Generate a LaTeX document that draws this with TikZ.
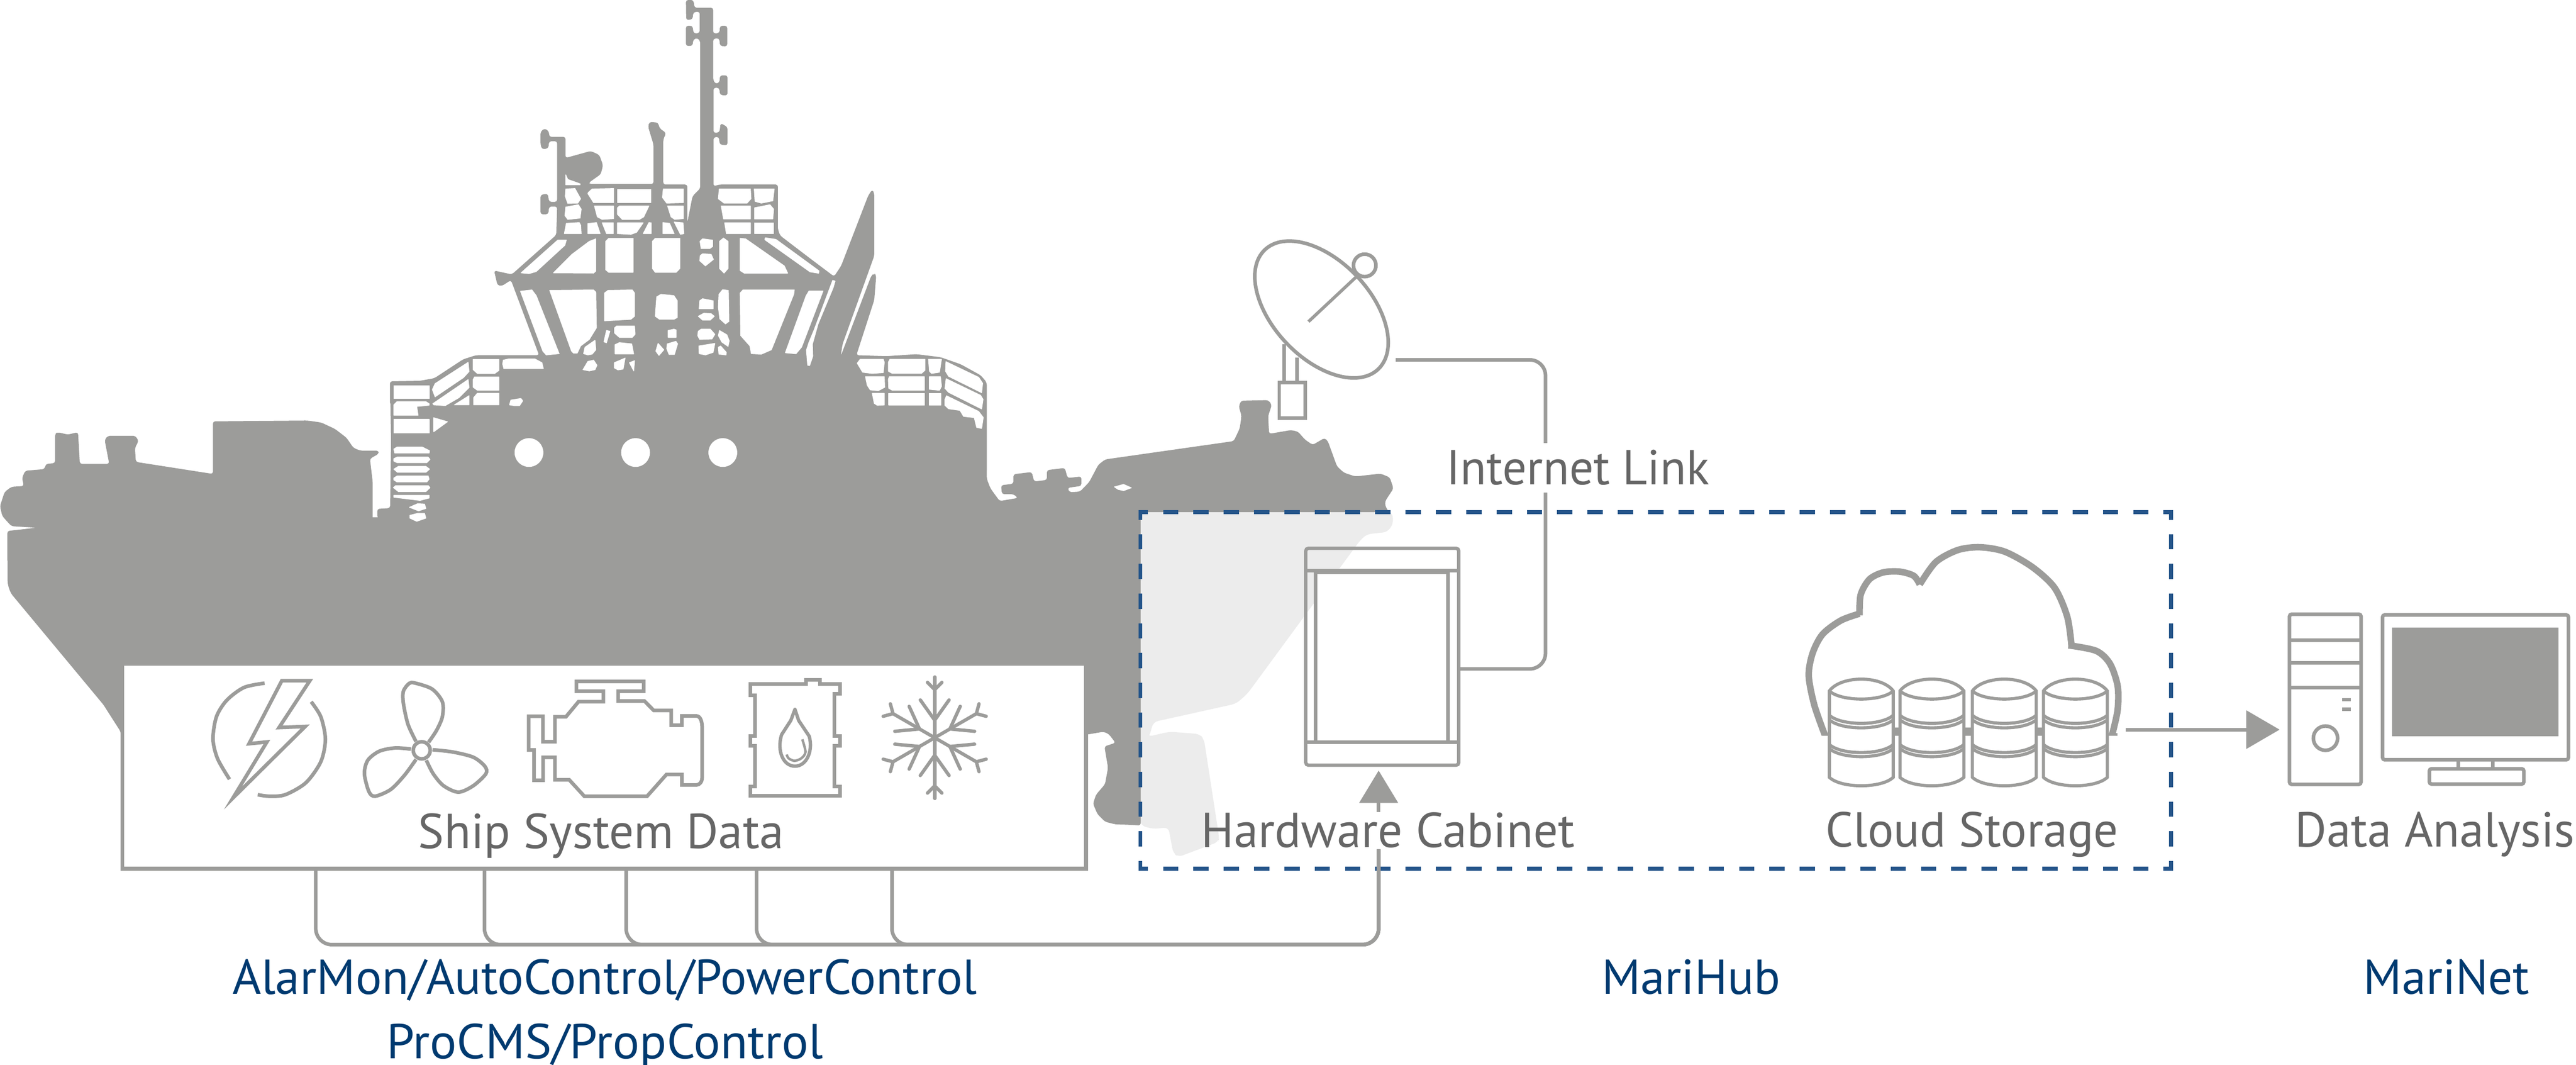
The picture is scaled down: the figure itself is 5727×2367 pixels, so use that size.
\documentclass[tikz,border=0pt]{standalone}
\usepackage{fontspec}
\usepackage{graphicx}
\setmainfont{PT Sans}
\usetikzlibrary{arrows.meta}
\definecolor{shipc}{HTML}{9C9C9A}
\definecolor{lightc}{HTML}{ECECEC}
\definecolor{dashc}{HTML}{25558A}
\definecolor{textc}{HTML}{666666}
\definecolor{bluec}{HTML}{003A70}
\tikzset{
  zm/.style n args={4}{shift={(#1,#2)},x={0.01cm/#3},y={-0.01cm/#4}},
  hullfill/.style={fill=shipc,rounded corners=0.05cm},
  lightfill/.style={fill=lightc,rounded corners=0.1cm},
  winfill/.style={fill=white,draw=white,line width=0.015cm,line join=round},
  wire/.style={draw=shipc,line width=0.08cm},
  icon/.style={draw=shipc,line width=0.08cm,line join=miter,miter limit=10},
  smallicon/.style={draw=shipc,line width=0.075cm},
  cloudline/.style={draw=shipc,line width=0.145cm},
  hubline/.style={draw=dashc,line width=0.087cm,line cap=rect},
  hubh/.style={hubline,dash pattern=on 0.253cm off 0.4206cm,dash phase=0.1265cm},
  hubv/.style={hubline,dash pattern=on 0.253cm off 0.407cm,dash phase=0.1265cm},
  txtlabel/.style={inner sep=0pt,outer sep=0pt,anchor=base west,font=\fontsize{31}{36}\selectfont},
  greylabel/.style={txtlabel,text=textc},
  bluelabel/.style={txtlabel,text=bluec},
  barrel/.pic={
    \filldraw[fill=white,draw=shipc,line width=0.07cm]
      (-71,0) .. controls (-45,-35) and (45,-35) .. (71,0) -- (71,192)
      .. controls (45,217) and (-45,217) .. (-71,192) -- cycle;
    \foreach \yy in {0,54,64,119,128}
      {\draw[draw=shipc,line width=0.07cm] (-71,\yy) .. controls (-45,\yy+24) and (45,\yy+24) .. (71,\yy);}
  },
}
\newcommand\win[1]{\filldraw[winfill] plot coordinates {#1} -- cycle;}
\newcommand\hull[2]{\fill[hullfill] #1 \foreach \p in {#2}{ -- \p } -- cycle;}
\newcommand\fit[2]{\resizebox{#1cm}{\height}{#2}}
\begin{document}
\begin{tikzpicture}[x=0.01cm,y=-0.01cm]
\useasboundingbox (0,0) rectangle (5727,2367);
\fill[white] (0,0) rectangle (5727,2367);

% light part of the ship inside the hub
\begin{scope}[zm={1600}{700}{.98}{1.4255}]
\fill[lightfill] (917,625) \foreach \p in {(1465,625),(1468,660),(1455,688),(1410,695),(1395,715),(1150,1200),(1125,1232),(945,1290),(935,1340),(917,1340)}{ -- \p } -- cycle;
\end{scope}
\begin{scope}[zm={2300}{1450}{3}{3}]
\fill[lightfill] (708,500) \foreach \p in {(760,563),(790,555),(900,530),(1100,545),(1130,580),(1232,1240),(1225,1265),(960,1365),(925,1340),(893,1168),(790,1178),(708,1155)}{ -- \p } -- cycle;
\end{scope}

% dark ship
\fill[shipc] (870,860) rectangle (1700,1500);
\fill[shipc] (400,1150) rectangle (2536,1600);
\begin{scope}[zm={0}{0}{.98}{1.12}]
\hull{(16,1322)}{(80,1314),(25,1310),(5,1285),(0,1260),(10,1225),(25,1212),(52,1210),(48,1190),(55,1172),(97,1168),(100,1155),(120,1153),(120,1080),(125,1076),(148,1082),(170,1076),(174,1155),(238,1155),(228,1095),(235,1085),(295,1085),(302,1098),(294,1115),(296,1150),(464,1180),(464,1049),(670,1047),(700,1052),(730,1068),(755,1090),(770,1115),(785,1122),(825,1122),(825,1130),(806,1142),(812,1200),(812,1303),(843,1303),(849,1296),(843,1290),(822,1290),(822,1267),(850,1265),(852,1100),(850,950),(880,950),(880,1400),(16,1400)}
\end{scope}
\begin{scope}[zm={0}{1150}{3}{3}]
\hull{(50,95)}{(250,68),(1500,68),(1500,1490),(805,1490),(805,1430),(760,1360),(690,1250),(75,510),(58,470),(50,430)}
\end{scope}
\begin{scope}[zm={800}{0}{1.568}{1.742}]
\hull{(105,1568)}{(105,1477),(210,1475),(260,1465),(360,1392),(405,1376),(625,1376),(527,1085),(495,1108),(480,1105),(468,1048),(530,1063),(685,910),(688,800),(660,800),(657,830),(630,830),(630,755),(655,750),(660,782),(688,782),(688,547),(660,547),(657,575),(635,578),(630,560),(630,510),(645,497),(660,510),(660,530),(717,530),(717,612),(805,585),(835,600),(848,640),(840,675),(798,708),(800,713),(1024,713),(1024,560),(1005,490),(1010,472),(1040,475),(1045,497),(1068,515),(1058,540),(1058,715),(1142,715),(1142,862),(1160,760),(1187,730),(1187,160),(1178,147),(1163,152),(1160,178),(1137,178),(1137,100),(1160,100),(1164,130),(1185,128),(1185,45),(1163,47),(1160,75),(1138,78),(1137,0),(1163,0),(1167,30),(1232,30),(1232,130),(1254,128),(1256,100),(1281,100),(1281,180),(1256,178),(1253,148),(1232,150),(1232,310),(1240,325),(1254,320),(1256,292),(1282,292),(1282,370),(1256,368),(1253,340),(1233,340),(1233,515),(1254,513),(1258,477),(1282,492),(1282,563),(1255,560),(1252,530),(1233,532),(1233,722),(1252,715),(1457,715),(1457,885),(1465,912),(1568,1000),(1568,1568)}
\end{scope}
\begin{scope}[zm={1600}{350}{2.24}{2.24}]
\hull{(0,135)}{(290,135),(290,360),(300,390),(570,593),(605,540),(740,190),(760,160),(770,178),(770,490),(612,930),(603,990),(755,590),(768,578),(780,585),(770,710),(681,985),(830,990),(980,980),(1100,995),(1200,1030),(1300,1085),(1330,1120),(1330,1568),(0,1568)}
\end{scope}
\begin{scope}[zm={1600}{700}{.98}{1.4255}]
\hull{(0,215)}{(582,215),(582,520),(590,550),(610,590),(650,580),(640,568),(615,568),(613,540),(640,535),(640,505),(680,498),(685,528),(713,523),(713,492),(752,485),(758,517),(788,512),(788,542),(758,548),(762,562),(785,560),(805,530),(825,475),(840,458),(1120,400),(1133,360),(1137,320),(1131,290),(1136,272),(1195,270),(1203,285),(1195,320),(1197,377),(1245,365),(1260,370),(1275,395),(1292,412),(1318,390),(1325,400),(1345,480),(1360,500),(1385,512),(1440,503),(1460,515),(1468,550),(1450,590),(1450,605),(1458,625),(917,625),(917,1320),(0,1320)}
\win{(860,545) (880,537) (897,548) (880,557) (868,553)}
\end{scope}
\begin{scope}[zm={2300}{1450}{3}{3}]
\hull{(0,0)}{(708,0),(708,1155),(620,1150),(540,1148),(470,1130),(420,1080),(390,1010),(410,950),(470,880),(490,770),(466,628),(540,604),(495,545),(460,530),(355,548),(0,548)}
\end{scope}

% windows
\begin{scope}[zm={800}{0}{1.568}{1.742}]
\win{(718,677) (725,695) (768,712) (768,716) (718,716)}
\win{(718,732) (750,730) (770,770) (760,787) (725,788) (716,760)}
\win{(797,745) (810,732) (885,730) (885,785) (815,785) (795,750)}
\win{(899,733) (1015,733) (1015,785) (899,785)}
\win{(1058,732) (1128,732) (1128,785) (1070,787) (1055,765)}
\win{(1253,732) (1362,732) (1364,770) (1350,787) (1270,787) (1250,770)}
\win{(1375,732) (1445,732) (1440,778) (1400,787) (1378,780)}
\win{(718,802) (762,793) (772,810) (768,845) (725,850) (715,835)}
\win{(818,798) (885,798) (885,847) (845,850) (828,840)}
\win{(905,798) (1008,798) (990,840) (975,850) (915,850) (898,830) (898,805)}
\win{(1073,798) (1128,798) (1128,847) (1098,850) (1085,840)}
\win{(1260,798) (1362,798) (1362,848) (1268,848)}
\win{(1376,805) (1430,793) (1443,810) (1440,848) (1376,848)}
\win{(720,865) (765,862) (770,872) (772,905) (713,905)}
\win{(795,866) (825,862) (838,905) (795,905)}
\win{(845,863) (884,863) (884,905) (860,905)}
\win{(898,863) (988,863) (965,900) (945,908) (898,905)}
\win{(1008,862) (1016,863) (1016,905) (988,905)}
\win{(1057,862) (1080,865) (1096,905) (1057,905)}
\win{(1096,860) (1127,863) (1130,905) (1118,908)}
\win{(1272,863) (1362,863) (1362,905) (1278,905)}
\win{(1376,863) (1443,863) (1443,905) (1376,905)}
\win{(562,1057) (690,930) (720,930) (715,950) (615,1052) (590,1060)}
\win{(675,1057) (740,985) (800,935) (823,925) (823,1050) (815,1058)}
\win{(857,935) (868,923) (953,923) (953,1055) (868,1055) (857,1045)}
\win{(1020,935) (1030,923) (1116,923) (1116,1040) (1103,1055) (1030,1055) (1020,1040)}
\win{(1186,935) (1195,925) (1230,930) (1230,955) (1220,963) (1190,963)}
\win{(1187,990) (1195,983) (1225,985) (1233,1005) (1205,1030) (1185,1010)}
\win{(1254,935) (1268,922) (1284,935) (1284,1040) (1270,1058) (1254,1040)}
\win{(1326,923) (1345,925) (1480,1030) (1492,1058) (1340,1058) (1326,1048)}
\win{(560,1128) (600,1123) (615,1145) (695,1370) (650,1375) (638,1360)}
\win{(662,1125) (815,1123) (823,1132) (825,1270) (800,1315) (770,1340) (758,1368) (745,1368) (738,1360)}
\win{(853,1135) (865,1125) (950,1123) (958,1135) (958,1225) (945,1237) (853,1243)}
\win{(1035,1150) (1050,1140) (1095,1145) (1107,1165) (1107,1230) (1095,1237) (1045,1237) (1030,1225)}
\win{(1185,1165) (1195,1157) (1232,1165) (1232,1196) (1183,1196)}
\win{(1180,1225) (1200,1213) (1225,1215) (1236,1225) (1222,1240) (1195,1240)}
\win{(1252,1140) (1265,1122) (1285,1125) (1287,1245) (1275,1255) (1255,1235) (1250,1190)}
\win{(1326,1135) (1336,1123) (1515,1123) (1513,1140) (1435,1355) (1400,1372) (1365,1370) (1360,1340) (1328,1300)}
\win{(860,1280) (872,1283) (860,1328) (851,1324)}
\win{(888,1270) (895,1263) (958,1263) (960,1295) (950,1307) (905,1307) (888,1290)}
\win{(1075,1280) (1095,1275) (1103,1278) (1103,1307) (1075,1307)}
\win{(1180,1283) (1190,1275) (1222,1275) (1238,1295) (1228,1313) (1185,1315) (1178,1300)}
\win{(1254,1280) (1280,1297) (1288,1320) (1284,1342) (1262,1325) (1250,1300)}
\win{(780,1370) (785,1345) (820,1318) (823,1355) (810,1372) (795,1375)}
\win{(890,1335) (905,1327) (948,1332) (955,1371) (890,1371)}
\win{(1040,1330) (1060,1355) (1043,1377) (1032,1360)}
\win{(1072,1332) (1102,1322) (1108,1332) (1097,1373) (1078,1373) (1070,1350)}
\win{(1182,1340) (1238,1330) (1232,1365) (1205,1375) (1183,1370)}
\win{(1250,1345) (1258,1340) (1278,1365) (1277,1375) (1252,1372)}
\win{(778,1432) (795,1400) (815,1395) (827,1415) (820,1432) (800,1437)}
\win{(887,1405) (925,1387) (918,1430) (900,1433) (887,1425)}
\win{(940,1405) (958,1397) (955,1437)}
\win{(395,1392) (485,1392) (485,1435) (470,1447) (410,1447) (395,1432)}
\win{(500,1395) (520,1390) (610,1390) (635,1405) (640,1428) (502,1428) (498,1410)}
\win{(395,1470) (400,1460) (485,1460) (485,1512) (410,1512) (395,1500)}
\end{scope}
\begin{scope}[zm={0}{0}{.98}{1.12}]
\win{(858,960) (935,960) (935,992) (858,992)}
\win{(942,970) (948,955) (1020,902) (1022,925) (1010,940) (948,988)}
\win{(943,1005) (1020,945) (1022,965) (1000,990) (970,1010) (945,1008)}
\win{(990,1008) (1022,985) (1022,1008)}
\win{(1032,990) (1040,979) (1087,979) (1087,1008) (1032,1008)}
\win{(1110,1008) (1113,996) (1135,992) (1139,998) (1132,1010) (1120,1010)}
\win{(858,1008) (865,1000) (928,1000) (935,1005) (935,1009) (908,1012) (911,1034) (858,1034)}
\win{(858,1044) (935,1044) (935,1078) (858,1078)}
\win{(945,1040) (975,1050) (945,1075)}
\win{(858,1118) (865,1113) (920,1113) (936,1122) (935,1128) (860,1128)}
\win{(858,1142) (865,1138) (933,1138) (937,1144) (930,1152) (865,1152) (858,1148)}
\win{(858,1168) (868,1161) (928,1161) (936,1168) (928,1176) (866,1176)}
\win{(858,1190) (865,1185) (933,1185) (935,1193) (930,1200) (865,1200) (858,1195)}
\win{(857,1214) (862,1209) (933,1209) (937,1214) (928,1224) (868,1224)}
\win{(858,1233) (935,1233) (935,1240) (915,1246) (858,1238)}
\win{(892,1263) (910,1254) (925,1255) (928,1266) (912,1272)}
\win{(893,1283) (910,1278) (925,1278) (928,1290) (908,1298) (893,1290)}
\end{scope}
\begin{scope}[zm={1600}{350}{2.24}{2.24}]
\win{(227,400) (280,408) (495,565) (493,577) (450,570) (225,410)}
\win{(430,690) (445,665) (515,665) (408,945) (380,978) (327,973)}
\win{(563,612) (575,616) (565,650) (490,830) (462,930) (464,990) (448,1037) (438,1035) (432,960) (445,920) (470,860)}
\win{(685,1025) (700,1005) (815,1005) (820,1020) (815,1072) (760,1076) (712,1070)}
\win{(840,1020) (848,1005) (1023,1005) (1023,1060) (1005,1076) (860,1076) (840,1065)}
\win{(1040,1005) (1105,1005) (1095,1070) (1055,1076) (1045,1065)}
\win{(1127,1017) (1290,1095) (1310,1125) (1305,1172) (1140,1090) (1125,1065)}
\win{(726,1092) (820,1092) (822,1145) (790,1162) (750,1158) (735,1135)}
\win{(845,1092) (1020,1092) (1020,1160) (860,1160) (842,1150) (840,1105)}
\win{(1044,1092) (1100,1092) (1105,1140) (1095,1160) (1044,1155)}
\win{(1128,1102) (1300,1185) (1312,1205) (1305,1253) (1140,1170) (1122,1150)}
\win{(760,1175) (820,1175) (820,1233) (785,1235) (770,1225)}
\win{(842,1176) (1020,1176) (1020,1233) (842,1233)}
\win{(1044,1176) (1101,1176) (1101,1234) (1044,1234)}
\win{(1130,1187) (1290,1265) (1313,1295) (1305,1350) (1280,1345) (1268,1296) (1215,1290) (1197,1260) (1140,1252) (1122,1235) (1122,1205)}
\end{scope}
\foreach \px in {1176,1413,1607}
  {\fill[white] (\px,1006) circle [radius=32];}

% ship system data box
\node[draw=shipc,fill=white,line width=0.085cm,minimum width=21.415cm,minimum height=4.55cm,inner sep=0pt] (sysbox) at (1343.25,1703.5) {};

% power icon
\begin{scope}[zm={420}{1480}{1.96}{3}]
\draw[icon] plot[smooth] coordinates {(330,116) (240,145) (165,230) (120,340) (105,490) (125,620) (177,757)};
\draw[icon] plot[smooth] coordinates {(533,240) (575,340) (595,490) (575,640) (510,780) (420,860) (350,870) (300,860)};
\draw[icon] (405,100) -- (527,100) -- (393,412) -- (507,405) -- (192,882) -- (340,508) -- (262,520) -- cycle;
% propeller
\draw[icon] (1015,564) ellipse [x radius=37,y radius=57];
\draw[icon] plot[smooth] coordinates {(990,505) (955,390) (935,250) (935,170) (960,118) (985,115) (1060,155) (1105,240) (1105,340) (1080,430) (1045,510)};
\draw[icon] plot[smooth] coordinates {(1062,560) (1150,575) (1240,610) (1290,670) (1295,720) (1240,800) (1175,843) (1110,800) (1065,720) (1035,630)};
\draw[icon] plot[smooth] coordinates {(968,556) (900,548) (830,570) (780,630) (765,720) (785,840) (812,870) (880,825) (940,730) (990,625)};
\end{scope}
% engine icon
\begin{scope}[zm={1150}{1480}{3}{3}]
\draw[icon] (76,337) -- (171,337) -- (171,507) -- (251,507) -- (251,340) -- (325,340) -- (408,240) -- (574,240) -- (574,170) -- (395,170) -- (395,105) -- (843,105) -- (843,170) -- (673,170) -- (673,235) -- (848,235) -- (910,298) -- (1027,298) -- (1027,397) -- (1097,397) -- (1097,335) -- (1195,335) .. controls (1220,335) and (1233,370) .. (1233,410) -- (1233,745) .. controls (1233,775) and (1215,795) .. (1195,795) -- (1098,795) -- (1098,725) -- (995,725) -- (866,870) -- (447,870) -- (346,760) -- (251,760) -- (251,611) -- (172,611) -- (172,764) -- (112,764) -- (112,562) -- (76,562) -- cycle;
\end{scope}
% fuel icon
\begin{scope}[zm={1600}{700}{.98}{1.4255}]
\draw[icon] (67,1170) -- (188,1170) -- (188,1157) -- (218,1157) -- (218,1170) -- (262,1170) -- (262,1200) -- (250,1200) -- (250,1335) -- (262,1335) -- (262,1365) -- (250,1365) -- (250,1495) -- (262,1495) -- (262,1524) -- (67,1524) -- (67,1495) -- (77,1495) -- (77,1365) -- (67,1365) -- (67,1335) -- (77,1335) -- (77,1205) -- (67,1205) -- cycle;
\draw[smallicon,line join=round] (164,1250) -- (172,1285) -- (195,1335) .. controls (204,1380) and (190,1430) .. (164,1430) .. controls (138,1430) and (124,1380) .. (135,1330) -- (155,1285) -- cycle;
\draw[draw=shipc,line width=0.055cm] plot[smooth] coordinates {(180,1345) (187,1385) (178,1405) (163,1413) (150,1405) (146,1393)};
\end{scope}
% snowflake
\foreach \a/\r in {0/135,60/107,120/107,180/135,240/107,300/107}{
\begin{scope}[shift={(2078,1640)},rotate=\a]
  \draw[smallicon,line cap=round] (0,0) -- (0,-\r);
  \draw[smallicon,line cap=round] (-32,-84) -- (0,-39) -- (32,-84);
  \draw[smallicon,line cap=round] (-16,-123) -- (0,-107) -- (16,-123);
\end{scope}
}

% dish
\coordinate (dishc) at (2938,688);
\draw[wire,rotate around={-46.5:(dishc)}] (dishc) ellipse [x radius=183,y radius=108];
\draw[wire] (3034,590) circle [radius=25];
\coordinate (armA) at (3019,612);
\coordinate (armB) at (2909,715);
\draw[wire,line width=0.07cm] (armA) -- (armB);
\node[draw=shipc,line width=0.08cm,minimum width=0.58cm,minimum height=0.79cm,inner sep=0pt] (dishbase) at (2873,889.5) {};
\draw[wire] (2855,765) -- (2855,850);
\draw[wire] (2884,795) -- (2884,850);

% hub
\node[minimum width=22.9cm,minimum height=7.923cm,inner sep=0pt,outer sep=0pt] (hub) at (3681,1534.85) {};
\draw[hubh] (hub.north west) -- (hub.north east);
\draw[hubh] (hub.south west) -- (hub.south east);
\draw[hubv] (hub.north west) -- (hub.south west);
\draw[hubv] (hub.north east) -- (hub.south east);

% cabinet
\node[draw=shipc,line width=0.075cm,rounded corners=0.06cm,minimum width=3.4cm,minimum height=4.82cm,inner sep=0pt] (cabinet) at (3073,1460) {};
\node[draw=shipc,fill=white,line width=0.075cm,minimum width=2.94cm,minimum height=3.78cm,inner sep=0pt] (panel) at (3072,1461) {};
\coordinate (cabTL) at (2903,1268);
\coordinate (cabTR) at (3243,1268);
\coordinate (cabBL) at (2903,1650);
\coordinate (cabBR) at (3243,1650);
\draw[wire] (cabTL) -- (cabTR);
\draw[wire] (cabBL) -- (cabBR);

% wires
\coordinate (b1) at (702,1931);
\coordinate (b2) at (1077,1931);
\coordinate (b3) at (1392,1931);
\coordinate (b4) at (1682,1931);
\coordinate (b5) at (1983,1931);
\coordinate (busend) at (3065,2100);
\coordinate (busup) at (3065,1888);
\foreach \b in {b1,b2,b3,b4,b5}
  {\draw[wire,rounded corners=0.36cm] (\b) |- (busend) -- (busup);}
\coordinate (stem) at (3065,1805);
\coordinate (cabtip) at (3065,1713);
\draw[wire,-{Triangle[length=0.72cm,width=0.85cm]}] (stem) -- (cabtip);
\coordinate (cabout) at (3243,1487);
\coordinate (linkA) at (3436,1095);
\coordinate (linkB) at (3436,985);
\coordinate (dishout) at (3103,800);
\draw[wire,rounded corners=0.35cm] (cabout) -| (linkA);
\draw[wire,rounded corners=0.35cm] (dishout) -| (linkB);

% cloud
\begin{scope}[zm={3800}{1150}{.814}{1.307}]
\draw[cloudline] plot[smooth] coordinates {(209,632) (190,545) (180,460) (187,395) (205,340) (238,300) (272,280)};
\draw[cloudline] plot[smooth] coordinates {(272,285) (274,225) (290,180) (315,160) (345,158) (370,170) (381,195)};
\draw[cloudline] plot[smooth] coordinates {(381,195) (410,130) (450,95) (490,87) (535,100) (585,145) (625,205) (648,290) (656,380)};
\draw[cloudline] plot[smooth] coordinates {(650,372) (700,388) (725,425) (739,490) (739,560) (729,632)};
\end{scope}
\fill[shipc] (4130,1617) rectangle (4630,1634);
\draw[draw=shipc,line width=0.06cm] (4052,1633) -- (4708,1633);
\foreach \bx in {4138,4295,4456,4614}
  {\pic at (\bx,1536) {barrel};}

% data arrow
\coordinate (cloudout) at (4726,1622);
\coordinate (pctip) at (5068,1622);
\draw[wire,-{Triangle[length=0.74cm,width=0.84cm]}] (cloudout) -- (pctip);

% computer
\node[draw=shipc,line width=0.08cm,rounded corners=0.05cm,minimum width=1.59cm,minimum height=3.78cm,inner sep=0pt] (tower) at (5169.5,1554.5) {};
\coordinate (t1a) at (5090,1423);\coordinate (t1b) at (5249,1423);
\coordinate (t2a) at (5090,1473);\coordinate (t2b) at (5249,1473);
\coordinate (t3a) at (5090,1529);\coordinate (t3b) at (5249,1529);
\draw[wire] (t1a) -- (t1b);
\draw[wire] (t2a) -- (t2b);
\draw[wire] (t3a) -- (t3b);
\fill[shipc] (5207,1552) rectangle (5226,1559);
\fill[shipc] (5207,1573) rectangle (5226,1581);
\draw[wire] (5170,1641) circle [radius=27];
\node[draw=shipc,line width=0.08cm,rounded corners=0.05cm,minimum width=4.13cm,minimum height=3.22cm,inner sep=0pt] (monitor) at (5503.5,1528) {};
\fill[shipc] (5318,1395) rectangle (5688,1637);
\node[draw=shipc,line width=0.08cm,rounded corners=0.05cm,minimum width=2.1cm,minimum height=0.34cm,inner sep=0pt] (pcbase) at (5506,1726) {};
\draw[wire] (5465,1689) -- (5465,1709);
\draw[wire] (5542,1689) -- (5542,1709);

% labels
\node[greylabel] (lsys) at (930,1886) {\fit{8.12}{Ship System Data}};
\node[greylabel] (lcab) at (2671,1884) {\fit{8.29}{Hardware Cabinet}};
\node[greylabel] (lcloud) at (4059,1883) {\fit{6.50}{Cloud Storage}};
\node[greylabel] (ldata) at (5102,1883) {\fit{6.22}{Data Analysis}};
\node[greylabel] (llink) at (3216,1077) {\fit{5.84}{Internet Link}};
\node[bluelabel] (lalar) at (517,2210) {\fit{16.54}{AlarMon/AutoControl/PowerControl}};
\node[bluelabel] (lpro) at (860,2353) {\fit{9.70}{ProCMS/PropControl}};
\node[bluelabel] (lhub) at (3561,2210) {\fit{3.97}{MariHub}};
\node[bluelabel] (lnet) at (5255,2210) {\fit{3.68}{MariNet}};
\end{tikzpicture}
\end{document}
